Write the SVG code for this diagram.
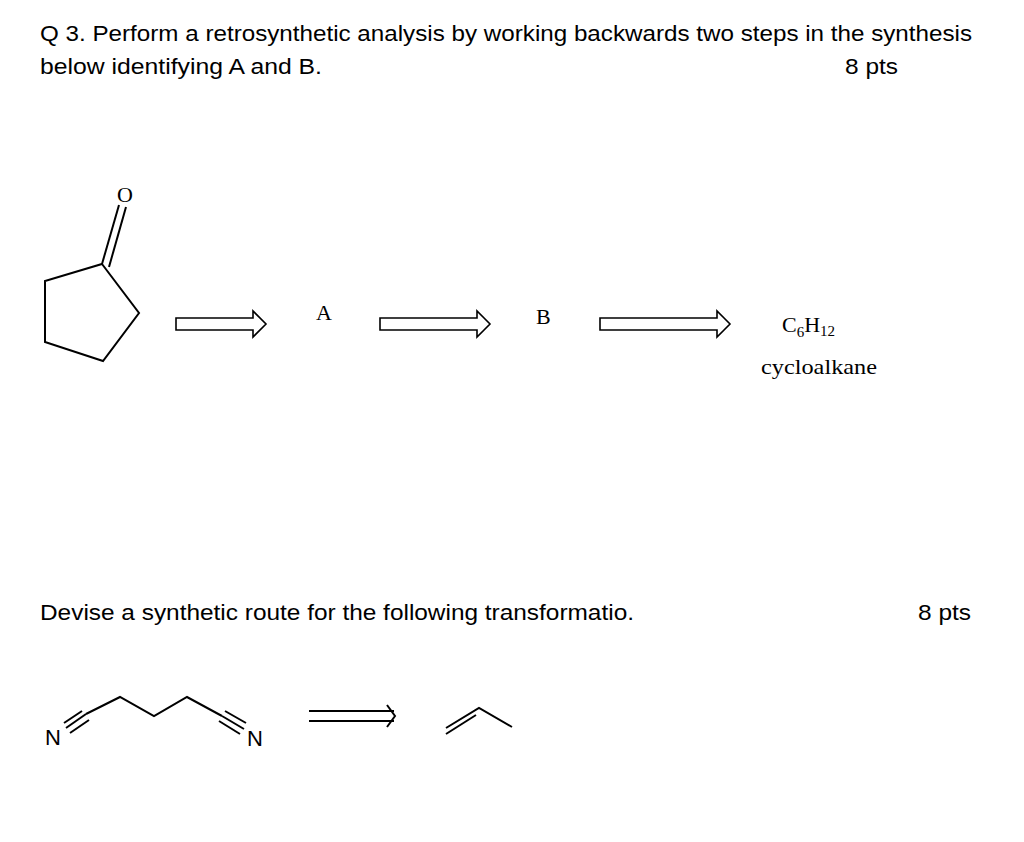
<svg xmlns="http://www.w3.org/2000/svg" width="1024" height="842" viewBox="0 0 1024 842">
<style>
.h{font-family:"Liberation Sans",Arial,sans-serif;font-size:22px;fill:#000}
.t{font-family:"Liberation Serif","Times New Roman",serif;font-size:22px;fill:#000}
.b{stroke:#000;stroke-width:2;fill:none}
.a{stroke:#000;stroke-width:1.6;fill:#fff}
</style>
<rect width="1024" height="842" fill="#fff"/>
<text class="h" x="40" y="41" textLength="932" lengthAdjust="spacingAndGlyphs">Q 3. Perform a retrosynthetic analysis by working backwards two steps in the synthesis</text>
<text class="h" x="40" y="74" textLength="282" lengthAdjust="spacingAndGlyphs">below identifying A and B.</text>
<text class="h" x="845" y="74" textLength="53" lengthAdjust="spacingAndGlyphs">8 pts</text>
<g id="cyclopentanone">
<polygon class="b" points="102,264 139,313 103,361 45,342 45,281"/>
<line class="b" x1="102" y1="264" x2="119" y2="205"/>
<line class="b" x1="109" y1="267" x2="126" y2="207"/>
<text class="t" x="117" y="202">O</text>
</g>
<g id="arrows">
<path class="a" d="M176,318 H253 V311 L266,324 L253,337 V330 H176 Z"/>
<path class="a" d="M380,318 H477 V311 L490,324 L477,337 V330 H380 Z"/>
<path class="a" d="M600,318 H717 V311 L730,324 L717,337 V330 H600 Z"/>
</g>
<text class="t" x="316" y="320">A</text>
<text class="t" x="536" y="324">B</text>
<text class="t" x="782" y="332">C<tspan font-size="15" dy="5">6</tspan><tspan dy="-5">H</tspan><tspan font-size="15" dy="4">12</tspan></text>
<text class="t" x="761" y="374" textLength="116" lengthAdjust="spacingAndGlyphs">cycloalkane</text>
<text class="h" x="40" y="620" textLength="594" lengthAdjust="spacingAndGlyphs">Devise a synthetic route for the following transformatio.</text>
<text class="h" x="918" y="620" textLength="53" lengthAdjust="spacingAndGlyphs">8 pts</text>
<g id="glutaronitrile">
<polyline class="b" stroke-width="1.5" points="86,714 120,697 154,716 187,697 222,716"/>
<line class="b" stroke-width="1.5" x1="66" y1="728" x2="86" y2="714"/>
<line class="b" stroke-width="1.5" x1="64" y1="723" x2="82" y2="711"/>
<line class="b" stroke-width="1.5" x1="70" y1="733" x2="89" y2="720"/>
<line class="b" stroke-width="1.5" x1="222" y1="716" x2="244" y2="729"/>
<line class="b" stroke-width="1.5" x1="225" y1="711" x2="246" y2="723"/>
<line class="b" stroke-width="1.5" x1="219" y1="721" x2="240" y2="734"/>
<text class="h" x="45" y="745">N</text>
<text class="h" x="247" y="746">N</text>
</g>
<g id="arrow4">
<line class="b" stroke-width="1.5" x1="309" y1="711" x2="394" y2="711"/>
<line class="b" stroke-width="1.5" x1="309" y1="721" x2="394" y2="721"/>
<polyline class="b" stroke-width="1.5" points="387,705 395,716 387,727"/>
</g>
<g id="propene">
<polyline class="b" stroke-width="1.5" points="446,728 479,708 512,727"/>
<line class="b" stroke-width="1.5" x1="446" y1="734" x2="476" y2="715"/>
</g>
</svg>
